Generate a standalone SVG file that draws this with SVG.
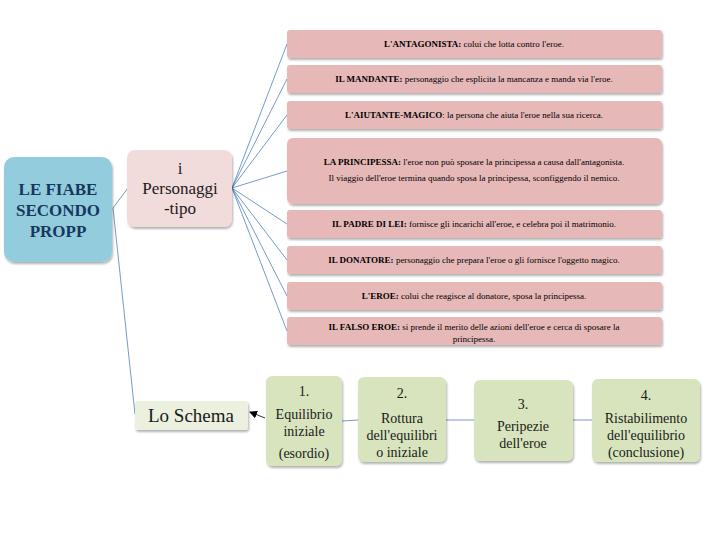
<svg xmlns="http://www.w3.org/2000/svg" width="720" height="560" viewBox="0 0 720 560">
<defs>
<filter id="sh" x="-10%" y="-10%" width="120%" height="130%"><feDropShadow dx="1" dy="2" stdDeviation="1.2" flood-color="#000" flood-opacity="0.3"/></filter>
<marker id="ar" markerWidth="8" markerHeight="8" refX="7" refY="4" orient="auto" markerUnits="userSpaceOnUse"><path d="M0,0 L8,4 L0,8 z" fill="#000"/></marker>
</defs>
<style>
text{font-family:"Liberation Serif",serif;text-anchor:middle}
.p rect{fill:#E6B9B8;filter:url(#sh)}
.p text{font-size:9px;fill:#000}
.g rect{fill:#D7E4BD;filter:url(#sh)}
.g text{font-size:14px;fill:#1a1a1a}
.c line,.c path{stroke:#4F81BD;stroke-width:0.8;fill:none}
b{font-weight:bold}
</style>
<rect width="720" height="560" fill="#fff"/>
<g class="c">
<line x1="113" y1="208" x2="128" y2="188"/>
<line x1="113" y1="208" x2="135" y2="414"/>
<line x1="232" y1="188" x2="287" y2="44"/>
<line x1="232" y1="188" x2="287" y2="79"/>
<line x1="232" y1="188" x2="287" y2="115"/>
<line x1="232" y1="188" x2="287" y2="171"/>
<line x1="232" y1="188" x2="287" y2="224"/>
<line x1="232" y1="188" x2="287" y2="260"/>
<line x1="232" y1="188" x2="287" y2="296"/>
<line x1="232" y1="188" x2="287" y2="331"/>
<line x1="342" y1="421" x2="358" y2="420"/>
<line x1="446" y1="420" x2="474" y2="420"/>
<line x1="573" y1="420" x2="592" y2="420"/>
<line x1="265" y1="418" x2="250" y2="412" style="stroke:#000" marker-end="url(#ar)"/>
</g>
<g id="fiabe"><rect x="4" y="157" width="108" height="105" rx="10" fill="#93CDDD" filter="url(#sh)"/>
<text font-size="17" font-weight="bold" fill="#17375E"><tspan x="58" y="195">LE FIABE</tspan><tspan x="58" y="216">SECONDO</tspan><tspan x="58" y="237">PROPP</tspan></text></g>
<g id="personaggi"><rect x="127" y="150" width="105" height="77" rx="8" fill="#F2DCDB" filter="url(#sh)"/>
<text font-size="17" fill="#1a1a1a"><tspan x="180" y="174">i</tspan><tspan x="180" y="194">Personaggi</tspan><tspan x="180" y="214">-tipo</tspan></text></g>
<g id="p1" class="p"><rect x="287" y="30" width="375" height="28" rx="3"/><text x="474" y="47"><tspan font-weight="bold">L'ANTAGONISTA:</tspan> colui che lotta contro l'eroe.</text></g>
<g id="p2" class="p"><rect x="287" y="65" width="375" height="28" rx="3"/><text x="474" y="82"><tspan font-weight="bold">IL MANDANTE:</tspan> personaggio che esplicita la mancanza e manda via l'eroe.</text></g>
<g id="p3" class="p"><rect x="287" y="101" width="375" height="28" rx="3"/><text x="474" y="118"><tspan font-weight="bold">L'AIUTANTE-MAGICO</tspan>: la persona che aiuta l'eroe nella sua ricerca.</text></g>
<g id="p4" class="p"><rect x="287" y="138" width="375" height="66" rx="6"/><text x="474" y="165"><tspan font-weight="bold">LA PRINCIPESSA:</tspan> l'eroe non può sposare la principessa a causa dall'antagonista.</text><text x="474" y="181">Il viaggio dell'eroe termina quando sposa la principessa, sconfiggendo il nemico.</text></g>
<g id="p5" class="p"><rect x="287" y="210" width="375" height="28" rx="3"/><text x="474" y="227"><tspan font-weight="bold">IL PADRE DI LEI:</tspan>  fornisce gli incarichi all'eroe, e celebra poi il matrimonio.</text></g>
<g id="p6" class="p"><rect x="287" y="246" width="375" height="28" rx="3"/><text x="474" y="263"><tspan font-weight="bold">IL DONATORE:</tspan>  personaggio che prepara l'eroe o gli fornisce l'oggetto magico.</text></g>
<g id="p7" class="p"><rect x="287" y="282" width="375" height="28" rx="3"/><text x="474" y="299"><tspan font-weight="bold">L'EROE:</tspan> colui che reagisce al donatore, sposa la principessa.</text></g>
<g id="p8" class="p"><rect x="287" y="317" width="375" height="28" rx="3"/><text x="474" y="330"><tspan font-weight="bold">IL FALSO EROE:</tspan> si prende il merito delle azioni dell'eroe e cerca di sposare la</text><text x="474" y="342">principessa.</text></g>
<g id="schema"><rect x="135" y="401" width="113" height="29" rx="3" fill="#EBF1DE" filter="url(#sh)"/><text x="191" y="422" font-size="19" fill="#1a1a1a">Lo Schema</text></g>
<g id="s1" class="g"><rect x="266" y="376" width="76" height="90" rx="6"/><text><tspan x="304" y="396">1.</tspan><tspan x="304" y="419">Equilibrio</tspan><tspan x="304" y="436">iniziale</tspan><tspan x="304" y="458">(esordio)</tspan></text></g>
<g id="s2" class="g"><rect x="358" y="377" width="88" height="85" rx="6"/><text><tspan x="402" y="398">2.</tspan><tspan x="402" y="423">Rottura</tspan><tspan x="402" y="440">dell'equilibri</tspan><tspan x="402" y="457">o iniziale</tspan></text></g>
<g id="s3" class="g"><rect x="474" y="380" width="99" height="81" rx="6"/><text><tspan x="523" y="409">3.</tspan><tspan x="523" y="431">Peripezie</tspan><tspan x="523" y="448">dell'eroe</tspan></text></g>
<g id="s4" class="g"><rect x="592" y="379" width="108" height="83" rx="6"/><text><tspan x="646" y="400">4.</tspan><tspan x="646" y="423">Ristabilimento</tspan><tspan x="646" y="440">dell'equilibrio</tspan><tspan x="646" y="457">(conclusione)</tspan></text></g>
</svg>
